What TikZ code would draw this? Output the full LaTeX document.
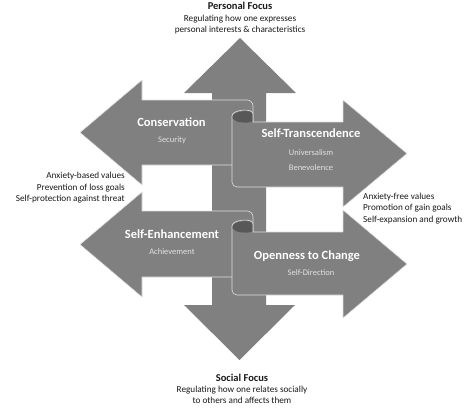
\documentclass[tikz,border=0pt]{standalone}
\usepackage{fontspec}
\setmainfont{Carlito}
\definecolor{arrowgray}{RGB}{128,128,128}
\definecolor{curlgray}{RGB}{88,88,88}
\definecolor{edgegray}{RGB}{222,222,222}
\definecolor{subgray}{RGB}{225,225,225}
\definecolor{textdark}{RGB}{25,25,25}
\tikzset{
  arrowshape/.style={fill=arrowgray, draw=edgegray, line width=0.6pt, line join=round},
  curlfill/.style={fill=curlgray},
  titletext/.style={text=white, inner sep=0pt, font=\bfseries\fontsize{12.5}{14}\selectfont},
  subtext/.style={text=subgray, inner sep=0pt, font=\fontsize{8.5}{15}\selectfont},
  notetext/.style={text=textdark, inner sep=0pt, font=\fontsize{9.2}{11.5}\selectfont},
  focustext/.style={text=textdark, inner sep=0pt, font=\bfseries\fontsize{10.5}{12}\selectfont},
}
\begin{document}
\begin{tikzpicture}[x=1pt,y=-1pt]
\useasboundingbox (0,0) rectangle (474,408);
% vertical double arrow
\path[fill=arrowgray] (240,38) -- (296,93) -- (266,93) -- (266,305) -- (295,305) -- (239.5,360) -- (184,305) -- (212,305) -- (212,93) -- (184,93) -- cycle;
% Conservation (left)
\path[arrowshape] (80,132.5) -- (142,80) -- (142,100) -- (247,100) .. controls (250.3,100) and (253,102.7) .. (253,106) -- (253,165) -- (142,165) -- (142,185) -- cycle;
% Self-Enhancement (left)
\path[arrowshape] (80,244.5) -- (142,192) -- (142,211) -- (247,211) .. controls (250.3,211) and (253,213.7) .. (253,217) -- (253,277) -- (142,277) -- (142,297) -- cycle;
% Self-Transcendence (right)
\path[arrowshape] (232,116) .. controls (232,109.5) and (253,107.5) .. (253,114) -- (253,122) -- (343,122) -- (343,100) -- (407,153.5) -- (343,207) -- (343,187) -- (237,187) .. controls (234.2,187) and (232,184.8) .. (232,182) -- cycle;
\fill[curlgray] (232.7,116.5) .. controls (232.7,111) and (252.3,109) .. (252.3,114) -- (252.3,121.6) .. controls (246,123.5) and (236,123) .. (232.7,118.5) -- cycle;
% Openness to Change (right)
\path[arrowshape] (232,226) .. controls (232,219.5) and (253,217.5) .. (253,224) -- (253,232) -- (343,232) -- (343,210) -- (407,264) -- (343,318) -- (343,295) -- (237,295) .. controls (234.2,295) and (232,292.8) .. (232,290) -- cycle;
\fill[curlgray] (232.7,226.5) .. controls (232.7,221) and (252.3,219) .. (252.3,224) -- (252.3,231.6) .. controls (246,233.5) and (236,233) .. (232.7,228.5) -- cycle;
% texts in arrows
\node[titletext] (cons) at (171.5,122) {Conservation};
\node[subtext] (sec) at (172,140) {Security};
\node[titletext] (st) at (311,133) {Self-Transcendence};
\node[subtext, align=center] (stv) at (311,160.5) {Universalism\\Benevolence};
\node[titletext] (se) at (172,234) {Self-Enhancement};
\node[subtext] (ach) at (172,252) {Achievement};
\node[titletext] (oc) at (307,256) {Openness to Change};
\node[subtext] (sd) at (311,273) {Self-Direction};
% outside texts
\node[focustext] (pf) at (240,6) {Personal Focus};
\node[notetext, align=center] (pfd) at (240,24.5) {Regulating how one expresses\\personal interests \& characteristics};
\node[notetext, align=right, anchor=east] (lnote) at (125,188) {Anxiety-based values\\Prevention of loss goals\\Self-protection against threat};
\node[notetext, align=left, anchor=west] (rnote) at (363,208.5) {Anxiety-free values\\Promotion of gain goals\\Self-expansion and growth};
\node[focustext] (sf) at (242,378) {Social Focus};
\node[notetext, align=center] (sfd) at (242,395) {Regulating how one relates socially\\to others and affects them};
\end{tikzpicture}
\end{document}
